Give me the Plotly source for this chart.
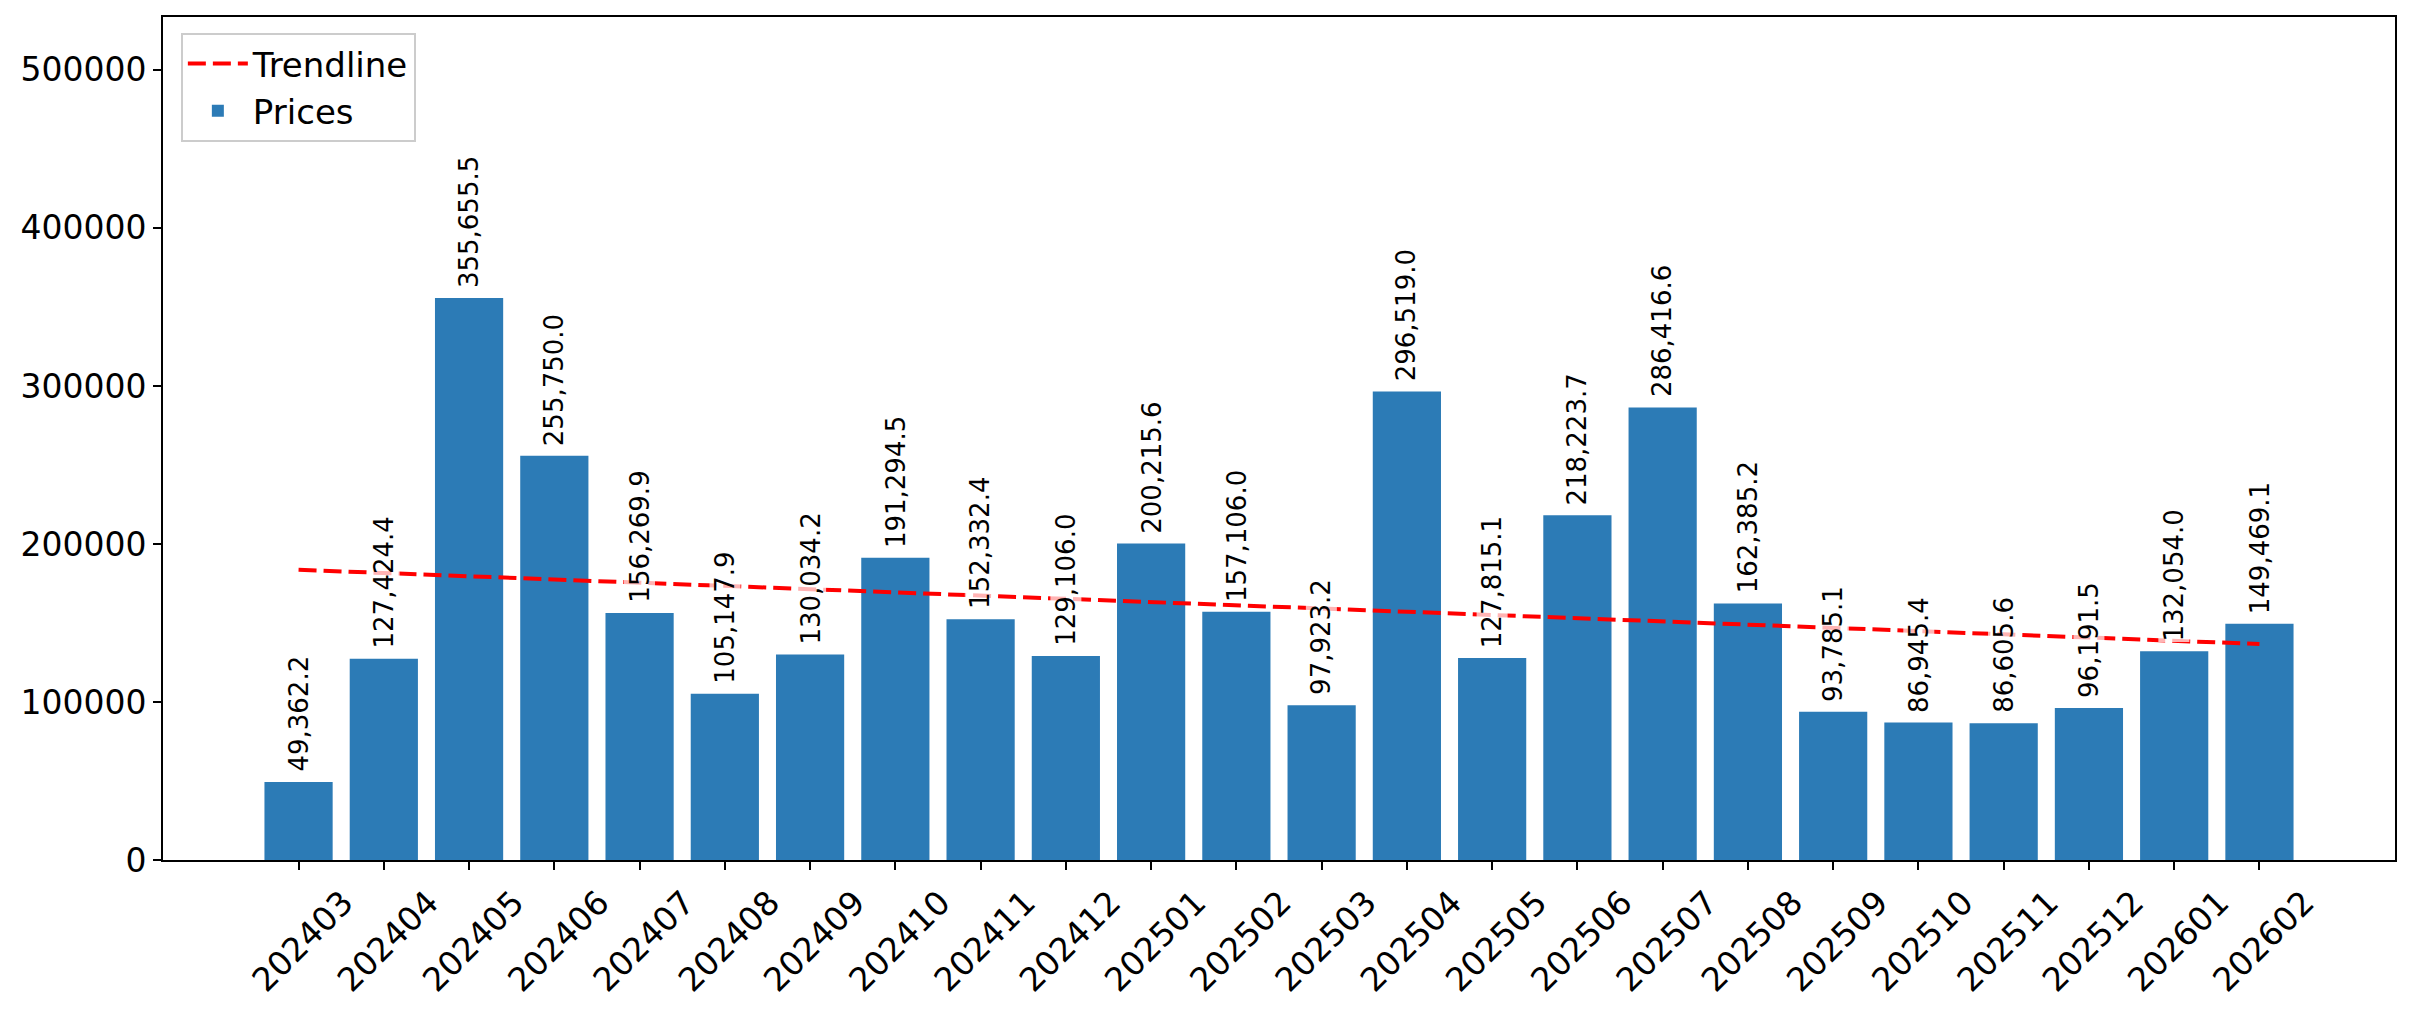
import numpy as np
import plotly.graph_objects as go

months = ["202403", "202404", "202405", "202406", "202407", "202408", "202409", "202410",
          "202411", "202412", "202501", "202502", "202503", "202504", "202505", "202506",
          "202507", "202508", "202509", "202510", "202511", "202512", "202601", "202602"]
prices = [49362.2, 127424.4, 355655.5, 255750.0, 156269.9, 105147.9, 130034.2, 191294.5,
          152332.4, 129106.0, 200215.6, 157106.0, 97923.2, 296519.0, 127815.1, 218223.7,
          286416.6, 162385.2, 93785.1, 86945.4, 86605.6, 96191.5, 132054.0, 149469.1]
y_ticks = [0, 100000, 200000, 300000, 400000, 500000]

idx = np.arange(len(prices))
slope, intercept = np.polyfit(idx, prices, 1)
trend = slope * idx + intercept

FONT = "DejaVu Sans"

fig = go.Figure()
fig.add_trace(go.Scatter(
    x=months, y=trend, mode="lines", name="Trendline",
    line=dict(color="red", width=4, dash="18px,7px"),
))
fig.add_trace(go.Bar(
    x=months, y=prices, name="Prices", width=0.8,
    marker=dict(color="#2c7bb6", line=dict(width=0)),
))

for i, p in enumerate(prices):
    fig.add_annotation(
        x=i, y=p, xref="x", yref="y", text=f"{p:,.1f}", textangle=-90, showarrow=False,
        xanchor="center", yanchor="bottom", yshift=9,
        font=dict(family=FONT, size=26, color="black"),
        bgcolor="rgba(255,255,255,0.7)", borderpad=0,
    )

fig.update_layout(
    width=2412, height=1011,
    margin=dict(l=163, r=17, t=17, b=151, autoexpand=False),
    paper_bgcolor="white", plot_bgcolor="white",
    font=dict(family=FONT, size=33, color="black"),
    showlegend=True,
    legend=dict(
        x=0.008, y=0.981, xanchor="left", yanchor="top",
        bgcolor="rgba(255,255,255,0.8)", bordercolor="#cccccc", borderwidth=2,
        font=dict(family=FONT, size=34, color="black"),
        traceorder="normal", itemwidth=60,
    ),
    bargap=0.2,
)
fig.update_xaxes(
    type="category", range=[-1.59, 24.59],
    tickangle=-45, ticks="outside", ticklen=8, tickwidth=2, tickcolor="black",
    ticklabelshift=45,
    showline=True, linecolor="black", linewidth=2, mirror=True,
    showgrid=False, zeroline=False,
    tickfont=dict(family=FONT, size=33, color="black"),
)
fig.update_yaxes(
    range=[0, 533483], tickvals=y_ticks, ticktext=[str(v) for v in y_ticks],
    ticks="outside", ticklen=8, tickwidth=2, tickcolor="black",
    showline=True, linecolor="black", linewidth=2, mirror=True,
    showgrid=False, zeroline=False,
    tickfont=dict(family=FONT, size=33, color="black"),
)

fig.write_html("out.html")
